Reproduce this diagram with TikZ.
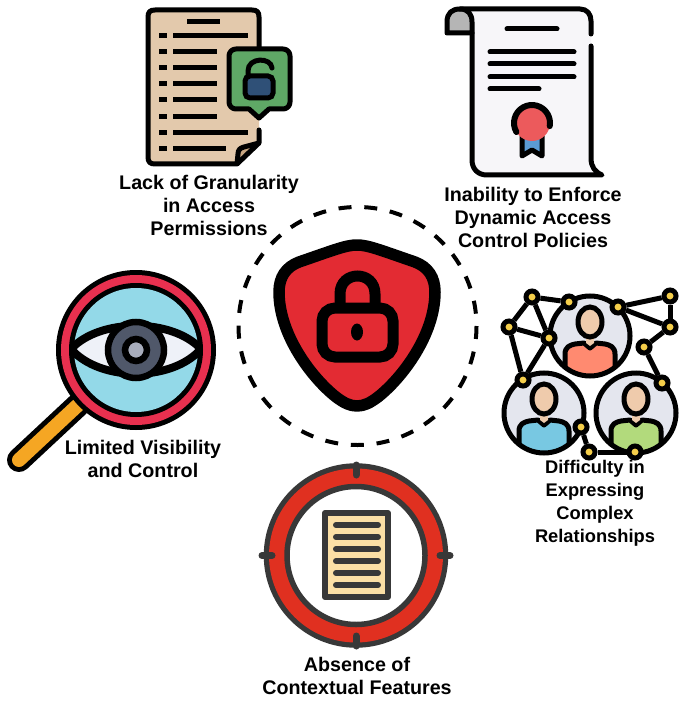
\documentclass[tikz,border=0pt]{standalone}
\usepackage{xcolor}
\usepackage{fontspec}
\setmainfont{Liberation Sans}
\definecolor{paper}{HTML}{E3C9AC}
\definecolor{paperfold}{HTML}{C9A782}
\definecolor{badge}{HTML}{5FA866}
\definecolor{lockblue}{HTML}{2F5077}
\definecolor{scroll}{HTML}{F7F6F9}
\definecolor{rollgrey}{HTML}{B5B5B5}
\definecolor{sealred}{HTML}{EC5A5C}
\definecolor{ribbon}{HTML}{5B9BD5}
\definecolor{shieldred}{HTML}{E32B33}
\definecolor{lensblue}{HTML}{93D9E8}
\definecolor{ringred}{HTML}{E8304F}
\definecolor{eyewhite}{HTML}{EEF1F8}
\definecolor{iris}{HTML}{50586A}
\definecolor{pupil}{HTML}{A8ADBC}
\definecolor{handle}{HTML}{F5A623}
\definecolor{disc}{HTML}{E4E6EE}
\definecolor{skin}{HTML}{EFCBAC}
\definecolor{shirtred}{HTML}{FF8A70}
\definecolor{shirtblue}{HTML}{78C8E2}
\definecolor{shirtgreen}{HTML}{B2DA7C}
\definecolor{netyellow}{HTML}{F5CE4A}
\definecolor{targetdark}{HTML}{383838}
\definecolor{targetred}{HTML}{E03020}
\definecolor{sheet}{HTML}{FBDFA5}
\tikzset{
   caption/.style={font=\fontsize{19.7}{23}\selectfont\bfseries,align=center,inner sep=0pt},
   small caption/.style={caption,font=\fontsize{18.3}{23}\selectfont\bfseries},
   netdot/.style={circle,draw=black,fill=netyellow,line width=5pt,minimum size=12pt,inner sep=0pt},
   thick line/.style={line width=5pt,line cap=round,line join=round},
   text row/.style={line width=5pt},
   person/.pic={
      \begin{scope}
         \clip (0,0) circle[radius=40];
         \fill[disc] (0,0) circle[radius=40];
         \draw[fill=#1,line width=5pt,line join=round] (-25,50) -- (-25,18) .. controls (-25,11) and (-20,9) .. (-15,8) -- (-6,7) -- (0,12) -- (6,7) -- (15,8) .. controls (20,9) and (25,11) .. (25,18) -- (25,50) -- cycle;
      \end{scope}
      \fill[skin] (-4,2) -- (4,2) -- (4,7) -- (0,10) -- (-4,7) -- cycle;
      \draw[fill=skin,line width=5pt] (0,-14) ellipse[x radius=12,y radius=15];
      \draw[line width=5pt] (0,0) circle[radius=40];
   }
}
\begin{document}
\begin{tikzpicture}[x=1pt,y=-1pt]
         \useasboundingbox (0,0) rectangle (685,703);

         \fill[paper,rounded corners=5pt] (148,10) rectangle (259,164);
         \fill[white] (237,165) -- (262,165) -- (262,141) -- cycle;
         \fill[paperfold] (238,148) -- (259,143) -- (238,163) -- cycle;
         \draw[thick line] (259,130) -- (259,143) -- (237,164) -- (155,164) .. controls (150,164) and (148,162) .. (148,157) -- (148,17) .. controls (148,12) and (150,10) .. (155,10) -- (252,10) .. controls (257,10) and (259,12) .. (259,17) -- (259,50);
         \draw[line width=5pt,line join=round] (259,143) -- (244,147) .. controls (240,148) and (238,150) .. (238,154) -- (237,164);
         \draw[line width=5pt] (187,22) -- (220,22);
         \foreach \rowy/\rowend in {36/248,52/217,68/217,84/217,100/217,117/217,133/248,149/226} {
            \draw[text row] (159,\rowy) -- (167,\rowy);
            \draw[text row] (173,\rowy) -- (\rowend,\rowy);
         }
         \draw[fill=badge,line width=5pt,line join=round] (236,49) -- (283,49) .. controls (287,49) and (290,52) .. (290,56) -- (290,102) .. controls (290,106) and (287,109) .. (283,109) -- (269,109) -- (259,118) -- (249,109) -- (236,109) .. controls (232,109) and (229,106) .. (229,102) -- (229,56) .. controls (229,52) and (232,49) .. (236,49) -- cycle;
         \draw[line width=5pt,line cap=round] (248,76) -- (248,71) .. controls (248,57) and (271,57) .. (272,68);
         \draw[fill=lockblue,line width=5pt,rounded corners=5pt] (245,76) rectangle (273,98);

         \fill[scroll] (472,9) -- (582,9) .. controls (588,9) and (591,14) .. (591,20) -- (591,160) .. controls (591,168) and (596,172) .. (602,175) -- (487,175) .. controls (478,175) and (472,169) .. (472,160) -- cycle;
         \draw[fill=rollgrey,thick line] (472,33) -- (447,33) -- (447,22) .. controls (447,13) and (452,9) .. (460,9) .. controls (468,9) and (472,14) .. (472,22) -- cycle;
         \draw[thick line] (460,9) -- (580,9) .. controls (587,9) and (591,14) .. (591,21) -- (591,34);
         \draw[thick line] (591,46) -- (591,158) .. controls (591,167) and (595,172) .. (602,175) -- (487,175) .. controls (478,175) and (472,169) .. (472,160) -- (472,33);
         \foreach \rowy/\rowstart/\rowend in {29/507/557,52/490/574,64/490/574,77/490/574,89/490/539} {
            \draw[text row,line cap=round] (\rowstart,\rowy) -- (\rowend,\rowy);
         }
         \draw[fill=ribbon,line width=5pt,line join=round] (522,136) -- (522,156) -- (532,150) -- (542,156) -- (542,136);
         \fill[sealred] (532,123) circle[radius=18];
         \draw[line width=6pt,line cap=round] (516.4,132) arc[start angle=150,end angle=370,radius=18];

         \draw[dashed,dash pattern=on 13pt off 12.8pt,line width=4pt] (357.5,326) circle[radius=119];
         \draw[fill=shieldred,line width=11.5pt,line join=round] (357,245) .. controls (368,245) and (380,250) .. (415,262) .. controls (428,267) and (435,277) .. (435,292) .. controls (435,335) and (402,378) .. (378,397) .. controls (370,403) and (364,406) .. (357,406) .. controls (350,406) and (344,403) .. (336,397) .. controls (312,378) and (279,335) .. (279,292) .. controls (279,277) and (286,267) .. (299,262) .. controls (334,250) and (346,245) .. (357,245) -- cycle;
         \draw[line width=11pt] (340,308) -- (340,294) .. controls (340,270) and (375,270) .. (375,294) -- (375,308);
         \draw[line width=11pt,rounded corners=13pt] (322,308) rectangle (393,357);
         \fill[black] (357,332) ellipse[x radius=6,y radius=8.5];

         \draw[line width=24pt,line cap=round] (78,405) -- (19,460);
         \draw[handle,line width=14pt,line cap=round] (78,405) -- (19,460);
         \fill[black] (136,350) circle[radius=80];
         \fill[ringred] (136,350) circle[radius=75];
         \fill[black] (136,350) circle[radius=67];
         \fill[lensblue] (136,350) circle[radius=62];
         \begin{scope}
            \clip (136,350) circle[radius=64];
            \draw[fill=eyewhite,line width=8pt,line join=miter] (71,349) .. controls (100,318) and (172,318) .. (201,349) .. controls (172,382) and (100,382) .. (71,349) -- cycle;
         \end{scope}
         \draw[fill=iris,line width=6.5pt] (136,350) circle[radius=28];
         \draw[fill=pupil,line width=6.5pt] (136,350) circle[radius=11];

         \pic at (590,336) {person=shirtred};
         \pic at (544,413) {person=shirtblue};
         \pic at (636,413) {person=shirtgreen};

         \node[netdot,name=na] at (532,297) {};
         \node[netdot,name=nb] at (569,302) {};
         \node[netdot,name=nc] at (618,307) {};
         \node[netdot,name=nd] at (670,296) {};
         \node[netdot,name=ne] at (670,327) {};
         \node[netdot,name=nf] at (644,347) {};
         \node[netdot,name=ng] at (509,327) {};
         \node[netdot,name=nh] at (549,338) {};
         \node[netdot,name=ni] at (523,380) {};
         \node[netdot,name=nj] at (662,383) {};
         \node[netdot,name=nk] at (581,427) {};
         \node[netdot,name=nl] at (589,452) {};
         \node[netdot,name=nm] at (635,452) {};

         \path[-,line width=5pt]
            (na) edge (nb)
                 edge (ng)
                 edge (nh)
            (ng) edge (nh)
                 edge (ni)
            (nh) edge (ni)
            (nc) edge (nd)
                 edge (ne)
            (nd) edge (ne)
            (ne) edge (nf)
            (nf) edge (nj)
            (nk) edge (nl)
            (nl) edge (nm);

         \draw[fill=targetred,targetdark,line width=5.5pt] (356,555.5) circle[radius=89.5];
         \fill[targetred] (356,555.5) circle[radius=87];
         \draw[targetdark,fill=white,line width=5.5pt] (356,555.5) circle[radius=69];
         \draw[targetdark,line width=7pt,line cap=round] (356,465) -- (356,475);
         \draw[targetdark,line width=7pt,line cap=round] (356,636) -- (356,646);
         \draw[targetdark,line width=7pt,line cap=round] (262,555.5) -- (272,555.5);
         \draw[targetdark,line width=7pt,line cap=round] (440,555.5) -- (450,555.5);
         \draw[targetdark,fill=sheet,line width=6pt,line join=round] (325,513) rectangle (388,597);
         \foreach \rowy in {525,537,549,561,573,585} {
            \draw[targetdark,line width=6pt,line cap=round] (336,\rowy) -- (378,\rowy);
         }

         \node[caption,name=granularity] at (209,205) {Lack of Granularity\\in Access\\Permissions};
         \node[caption,name=dynamic] at (533,217) {Inability to Enforce\\Dynamic Access\\Control Policies};
         \node[caption,name=visibility] at (143,459) {Limited Visibility\\and Control};
         \node[small caption,name=relationships] at (595,503.5) {Difficulty in\\Expressing\\Complex\\Relationships};
         \node[caption,name=contextual] at (357,676) {Absence of\\Contextual Features};
      \end{tikzpicture}
\end{document}
